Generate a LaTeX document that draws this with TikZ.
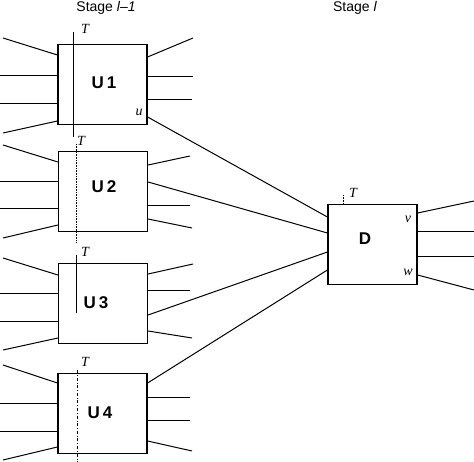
\documentclass[tikz,border=0pt]{standalone}
\usepackage{fontspec}
\setmainfont{Liberation Serif}
\setsansfont{Liberation Sans}
\begin{document}
\begin{tikzpicture}[x=1pt,y=-1pt,
  box/.style={draw,line width=1.2pt,minimum width=89pt,minimum height=80pt,inner sep=0pt},
  boxlabel/.style={font=\sffamily\bfseries\fontsize{17}{19}\selectfont},
  stagelabel/.style={font=\sffamily\fontsize{14}{16}\selectfont,inner sep=0pt},
  tlabel/.style={font=\itshape\fontsize{14}{16}\selectfont,inner sep=0pt},
  port/.style={font=\itshape\fontsize{14}{16}\selectfont,inner sep=0pt},
  wire/.style={line width=1pt},
  tline/.style={line width=0.6pt}]
\useasboundingbox (0,0) rectangle (474,462);
% boxes
\node[box] (U1) at (102.5,84.5) {};
\node[box] (U2) at (103,191.5) {};
\node[box] (U3) at (103,303.5) {};
\node[box] (U4) at (102.5,413.5) {};
\node[box] (D) at (372.5,244.5) {};
% labels
\node[boxlabel] (L1) at (104,83) {U\,1};
\node[boxlabel] (L2) at (104,187) {U\,2};
\node[boxlabel] (L3) at (96,303) {U\,3};
\node[boxlabel] (L4) at (100,413) {U\,4};
\node[boxlabel] (LD) at (365,239) {D};
\node[port] (pu) at (139,112) {u};
\node[port] (pv) at (408,219) {v};
\node[port] (pw) at (408,272) {w};
\node[stagelabel,anchor=north] (S1) at (106,1) {Stage \textit{l–1}};
\node[stagelabel,anchor=north] (S2) at (355,1) {Stage \textit{l}};
% T lines and labels
\draw[tline] (73,32) -- (73,137);
\node[tlabel] (T1) at (85,29) {T};
\draw[tline,densely dotted] (76,144) -- (76,243);
\node[tlabel] (T2) at (81,141) {T};
\draw[tline] (76,255) -- (76,313);
\node[tlabel] (T3) at (85,252) {T};
\draw[tline,dash dot] (77,370) -- (77,462);
\node[tlabel] (T4) at (85,362) {T};
\draw[tline,densely dotted] (343,195) -- (343,204);
\node[tlabel] (TD) at (353,193) {T};
% left free ends
\foreach \n/\a/\b/\c/\d in {U1/38/55/133/121, U2/145/162/238/225, U3/258/275/350/338, U4/365/383/460/447}{
  \draw[wire] (3,\a) -- (\n.west |- 0,\b);
  \draw[wire] (3,\c) -- (\n.west |- 0,\d);
}
\foreach \n/\y in {U1/76, U1/104, U2/182, U2/209, U3/294, U3/322, U4/403, U4/431}{
  \draw[wire] (0,\y) -- (\n.west |- 0,\y);
}
% right free ends
\foreach \n/\y/\ex/\ey in {U1/57/193/38, U1/77/193/77, U1/100/192/100,
  U2/165/190/156, U2/206/190/206, U2/219/192/228,
  U3/274/193/264, U3/291/190/291, U3/331/192/338,
  U4/397/190/397, U4/420/190/420, U4/441/192/451,
  D/213/474/201, D/232/474/232, D/257/474/257, D/275/474/290}{
  \draw[wire] (\n.east |- 0,\y) -- (\ex,\ey);
}
% connections to D
\draw[wire] (U1.east |- 0,117) -- (D.west |- 0,217);
\draw[wire] (U2.east |- 0,182) -- (D.west |- 0,233);
\draw[wire] (U3.east |- 0,315) -- (D.west |- 0,252);
\draw[wire] (U4.east |- 0,383) -- (D.west |- 0,270);
\end{tikzpicture}
\end{document}
